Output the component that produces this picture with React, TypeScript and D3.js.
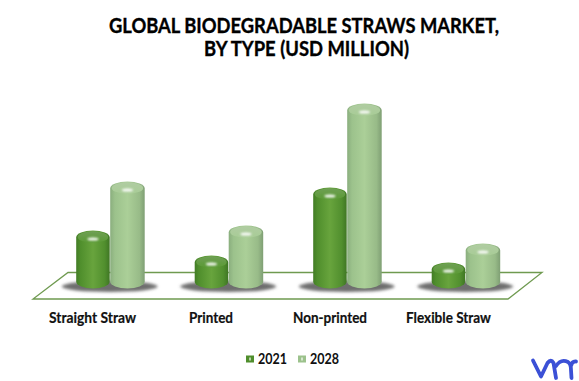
import React from "react";
import * as d3 from "d3";

const categories = ["Straight Straw", "Printed", "Non-printed", "Flexible Straw"];
const seriesNames = ["2021", "2028"];
const values2021 = [58, 33, 101, 26];
const values2028 = [107, 63, 185, 45];
const titleLines = ["GLOBAL BIODEGRADABLE STRAWS MARKET,", "BY TYPE (USD MILLION)"];

const W = 579, H = 381;
const FONT = "Lato, Carlito, 'Open Sans', sans-serif";
const baseY = 288.5;
const y = d3.scaleLinear().domain([0, 185]).range([baseY, 103.5]);
const groupCenters = [109.7, 228.2, 346.7, 465.2];
const labelBoxes: [number, number][] = [[49, 87], [189, 44], [293, 74], [406, 85]];
const titleBoxes: [number, number][] = [[109, 390], [204, 205]];
const floorPts: [number, number][] = [[68, 272.5], [542, 272.5], [508, 299], [33, 299]];
const floor = d3.line()(floorPts) + "Z";
const barW = 33.5;
const RY = 7;

function cylinder(xl: number, top: number, w: number, dark: boolean, key: string) {
  const rx = w / 2;
  const cx = xl + rx;
  const tY = top + RY;
  const path = `M${xl},${tY}A${rx},${RY} 0 0 1 ${xl + w},${tY}L${xl + w},${baseY - RY}A${rx},${RY} 0 0 1 ${xl},${baseY - RY}Z`;
  const id = dark ? "d" : "l";
  return (
    <g key={key}>
      <path d={path} fill={`url(#body-${id})`} />
      <ellipse cx={cx} cy={tY - 0.5} rx={rx - 1.5} ry={RY - 1.2} fill={`url(#cap-${id})`} filter="url(#capblur)" />
      <ellipse cx={cx} cy={tY + 1.5} rx={5.5} ry={1.5} fill="#fff" opacity={0.95} filter="url(#soft)" />
    </g>
  );
}

export default function App() {
  return (
    <svg width={W} height={H} viewBox={`0 0 ${W} ${H}`} style={{ position: "absolute", left: 0, top: 0 }}>
      <defs>
        <linearGradient id="body-d" x1="0" x2="1" y1="0" y2="0">
          <stop offset="0" stopColor="#427c25" />
          <stop offset="0.12" stopColor="#4f8e2c" />
          <stop offset="0.5" stopColor="#68a43d" />
          <stop offset="0.85" stopColor="#518f2e" />
          <stop offset="1" stopColor="#3f7624" />
        </linearGradient>
        <linearGradient id="body-l" x1="0" x2="1" y1="0" y2="0">
          <stop offset="0" stopColor="#8aae7e" />
          <stop offset="0.14" stopColor="#9cc28c" />
          <stop offset="0.5" stopColor="#abcf98" />
          <stop offset="0.85" stopColor="#98bb88" />
          <stop offset="1" stopColor="#7f9f74" />
        </linearGradient>
        <linearGradient id="cap-d" x1="0" x2="0" y1="0" y2="1">
          <stop offset="0" stopColor="#6f9f55" />
          <stop offset="1" stopColor="#5a9a34" />
        </linearGradient>
        <linearGradient id="cap-l" x1="0" x2="0" y1="0" y2="1">
          <stop offset="0" stopColor="#b0cca2" />
          <stop offset="1" stopColor="#a8cc96" />
        </linearGradient>
        <filter id="soft" x="-50%" y="-100%" width="200%" height="300%">
          <feGaussianBlur stdDeviation="0.9" />
        </filter>
        <filter id="capblur" x="-20%" y="-50%" width="140%" height="200%">
          <feGaussianBlur stdDeviation="0.5" />
        </filter>
        <filter id="shadow" x="-20%" y="-100%" width="140%" height="300%">
          <feGaussianBlur stdDeviation="1.8" />
        </filter>
      </defs>

      <g fontFamily={FONT} fontWeight={700} fill="#000" stroke="#000" strokeWidth={0.35} fontSize={20}>
        {titleLines.map((t, i) => (
          <text key={t} x={titleBoxes[i][0]} y={33 + i * 23} textLength={titleBoxes[i][1]} lengthAdjust="spacingAndGlyphs">{t}</text>
        ))}
      </g>

      <path d={floor} fill="#fff" stroke="#6f9a50" strokeWidth={1.3} />

      {groupCenters.map((center, i) => (
        <ellipse key={i} cx={center} cy={286.5} rx={48} ry={5.5} fill="#6e6e6e" filter="url(#shadow)" />
      ))}

      {categories.map((c, i) => {
        const center = groupCenters[i];
        return (
          <g key={c}>
            {cylinder(center - barW, y(values2021[i]), barW, true, "a")}
            {cylinder(center + 0.5, y(values2028[i]), barW + 1, false, "b")}
          </g>
        );
      })}

      <g fontFamily={FONT} fontWeight={700} fontSize={14.5} fill="#111" stroke="#111" strokeWidth={0.2}>
        {categories.map((c, i) => (
          <text key={c} x={labelBoxes[i][0]} y={322.5} textLength={labelBoxes[i][1]} lengthAdjust="spacingAndGlyphs">{c}</text>
        ))}
      </g>

      <g fontFamily={FONT} fontWeight={700} fontSize={14.5} fill="#111">
        {seriesNames.map((s, i) => {
          const lx = [246, 298][i];
          return (
            <g key={s}>
              <rect x={lx} y={355.5} width={8} height={7} fill={i === 0 ? "#4f8e2c" : "#9cc28c"} />
              <rect x={lx + 3} y={357.5} width={2} height={3} fill="#fff" opacity={0.6} />
              <text x={lx + 12} y={364} textLength={29} lengthAdjust="spacingAndGlyphs">{s}</text>
            </g>
          );
        })}
      </g>

      <path d="M533,360.5 L541,376.5 L547.5,363 Q551,358.5 553.5,363 L556,378 M556,366 Q561,358.5 568,362 Q571,364 571,370 L571.5,378 M571,366 Q572,361 576,361.5"
        fill="none" stroke="#3b50d6" strokeWidth={3.8} strokeLinecap="round" strokeLinejoin="round" />
    </svg>
  );
}
